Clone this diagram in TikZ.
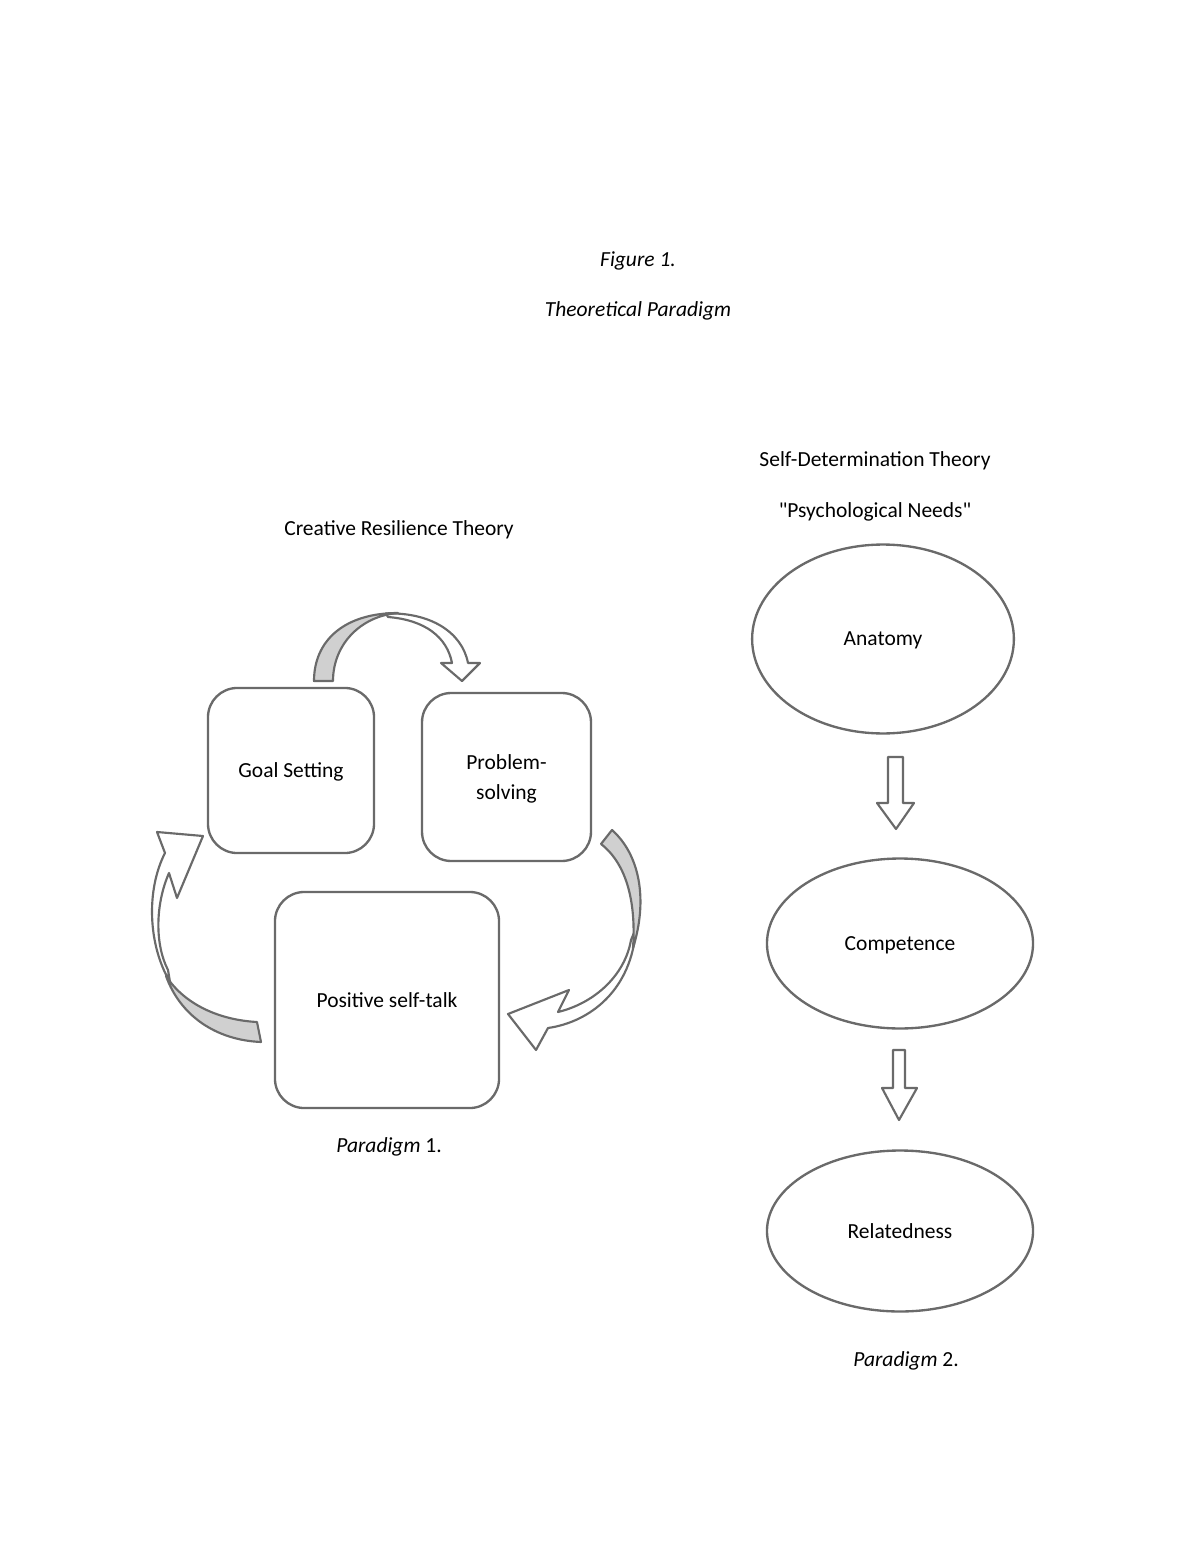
\documentclass[tikz,border=0pt]{standalone}
\usepackage{fontspec}
\setmainfont{Carlito}[Ligatures=TeXOff]
\usetikzlibrary{shapes.geometric}
\definecolor{edgegray}{HTML}{6A6A6A}
\definecolor{bandgray}{HTML}{D0D0D0}
\tikzset{
  stagebox/.style={draw=edgegray, line width=1.2pt, rounded corners=15pt, align=center, inner sep=0pt},
  needoval/.style={ellipse, draw=edgegray, line width=1.2pt, inner sep=0pt},
  bandface/.style={draw=edgegray, line width=1.1pt, fill=bandgray, line join=round},
  bandback/.style={draw=edgegray, line width=1.1pt, fill=white, line join=round},
}
\begin{document}
\begin{tikzpicture}[x=0.5119pt, y=-0.5119pt, font=\fontsize{11}{13.2}\selectfont,
    every node/.append style={text depth=0pt}]
    \useasboundingbox (0,0) rectangle (1200,1553);

    % titles
    \node (fig) at (638,259) {\itshape Figure 1.};
    \node (theo) at (638,309) {\itshape Theoretical Paradigm};
    \node (crt) at (399,528) {Creative Resilience Theory};
    \node (sdt) at (875,459) {Self-Determination Theory};
    \node (needs) at (875,510) {"Psychological Needs"};

    % paradigm 1
    \node[stagebox, minimum width=85pt, minimum height=84.5pt] (goal) at (291,770.5) {Goal Setting};
    \node[stagebox, minimum width=86.5pt, minimum height=86pt, font=\fontsize{11}{15.4}\selectfont] (prob) at (506.5,777) {Problem-\\solving};
    \node[stagebox, minimum width=114.7pt, minimum height=110.6pt] (talk) at (387,1000) {Positive self-talk};
    \node (par1) at (389,1145) {\itshape Paradigm\/ \upshape 1.};

    % goal -> problem
    \draw[bandback] (386,613.5) .. controls (430,612) and (462,632) .. (468,663) -- (480,663) -- (462,681)
        -- (441,663) -- (452,663) .. controls (447,637) and (425,620) .. (388,617) -- cycle;
    \draw[bandface] (314,681) .. controls (314,640) and (345,613) .. (398,613)
        .. controls (360,616) and (333,645) .. (333,681) -- cycle;

    % problem -> self-talk
    \draw[bandback] (636,928) .. controls (632,990) and (590,1022) .. (548,1028) -- (536,1050) -- (508,1014)
        -- (569,990) -- (558,1012) .. controls (595,1003) and (625,975) .. (631,940) -- cycle;
    \draw[bandface] (612,830) .. controls (640,855) and (648,900) .. (633,948)
        .. controls (636,905) and (628,865) .. (601,844) -- cycle;

    % self-talk -> goal
    \draw[bandback] (170,982) .. controls (148,945) and (146,890) .. (165,853) -- (157,832) -- (203,836)
        -- (177,898) -- (169,873) .. controls (155,905) and (155,945) .. (168,970) -- cycle;
    \draw[bandface] (261,1042) .. controls (215,1040) and (180,1015) .. (166,976)
        .. controls (185,1005) and (220,1020) .. (257,1022) -- cycle;

    % paradigm 2
    \node[needoval, minimum width=134pt, minimum height=96.7pt] (auto) at (883,639) {Anatomy};
    \node[needoval, minimum width=136.2pt, minimum height=87pt] (comp) at (900,943.5) {Competence};
    \node[needoval, minimum width=136.2pt, minimum height=82.4pt] (rel) at (900,1231) {Relatedness};
    \node (par2) at (906,1359) {\itshape Paradigm\/ \upshape 2.};

    \draw[bandback] (888,757) -- (903,757) -- (903,803) -- (914,803) -- (896,829) -- (877,803) -- (888,803) -- cycle;
    \draw[bandback] (893,1050) -- (905,1050) -- (905,1088) -- (917,1088) -- (899,1120) -- (882,1088) -- (893,1088) -- cycle;
\end{tikzpicture}
\end{document}
